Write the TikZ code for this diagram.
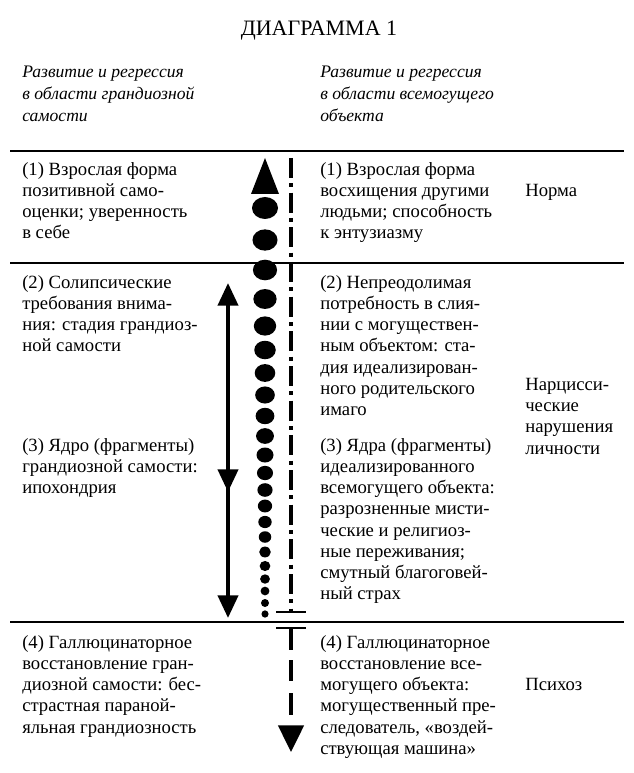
\documentclass[tikz,border=0pt]{standalone}
\usepackage{fontspec}
\setmainfont{Liberation Serif}
\usetikzlibrary{arrows.meta}
\begin{document}
\begin{tikzpicture}[x=0.75pt,y=-0.75pt,
  txt/.style={anchor=north west,inner sep=0pt,align=left,font=\fontsize{14}{15.9}\selectfont},
  hdr/.style={anchor=north west,inner sep=0pt,align=left,font=\fontsize{13.2}{16.5}\selectfont\itshape},
  rule/.style={line width=1.1pt}]
\useasboundingbox (0,0) rectangle (634,773);
\node[anchor=center,font=\fontsize{16.5}{18}\selectfont] (title) at (319,31) {ДИАГРАММА 1};
\node[hdr] (hl) at (22,66) {Развитие и регрессия\\в области грандиозной\\самости};
\node[hdr] (hr) at (320,66) {Развитие и регрессия\\в области всемогущего\\объекта};
\coordinate (r1a) at (10,151); \coordinate (r1b) at (624,151);
\coordinate (r2a) at (10,263); \coordinate (r2b) at (624,263);
\coordinate (r3a) at (10,622); \coordinate (r3b) at (624,622);
\draw[rule] (r1a)--(r1b); \draw[rule] (r2a)--(r2b); \draw[rule] (r3a)--(r3b);
% block 1
\node[txt] (l1) at (22,162) {(1) Взрослая форма\\позитивной само-\\оценки; уверенность\\в себе};
\node[txt] (m1) at (320,162) {(1) Взрослая форма\\восхищения другими\\людьми; способность\\к энтузиазму};
\node[txt] (n1) at (525,184) {Норма};
% block 2
\node[txt] (l2) at (22,275) {(2) Солипсические\\требования внима-\\ния: стадия грандиоз-\\ной самости};
\node[txt] (m2) at (320,275) {(2) Непреодолимая\\потребность в слия-\\нии с могуществен-\\ным объектом: ста-\\дия идеализирован-\\ного родительского\\имаго};
\node[txt] (n2) at (525,378) {Нарцисси-\\ческие\\нарушения\\личности};
% block 3
\node[txt] (l3) at (22,438) {(3) Ядро (фрагменты)\\грандиозной самости:\\ипохондрия};
\node[txt] (m3) at (320,438) {(3) Ядра (фрагменты)\\идеализированного\\всемогущего объекта:\\разрозненные мисти-\\ческие и религиоз-\\ные переживания;\\смутный благоговей-\\ный страх};
% block 4
\node[txt] (l4) at (22,635) {(4) Галлюцинаторное\\восстановление гран-\\диозной самости: бес-\\страстная параной-\\яльная грандиозность};
\node[txt] (m4) at (320,635) {(4) Галлюцинаторное\\восстановление все-\\могущего объекта:\\могущественный пре-\\следователь, «воздей-\\ствующая машина»};
\node[txt] (n4) at (525,678) {Психоз};
% dots column
\foreach \y [count=\i from 0] in {208,240,270,299,326,350,373,395,416,436,455,473,490,506,522,537,552,566,579,591,603,614}{
  \pgfmathsetmacro{\rx}{13-0.45*\i}
  \pgfmathsetmacro{\ry}{11-0.35*\i}
  \fill (265,\y) ellipse [x radius=\rx*0.75pt, y radius=\ry*0.75pt];
}
\coordinate (ua) at (265,196); \coordinate (ub) at (265,158);
\fill (251,194) -- (265,158) -- (279,194) -- cycle;
% left arrow
\coordinate (a1) at (228,283); \coordinate (a2) at (228,618); \coordinate (a3) at (228,492);
\draw[line width=3pt,{Triangle[length=17pt,width=15pt]}-{Triangle[length=17pt,width=15pt]}] (a1)--(a2);
\draw[line width=3pt,-{Triangle[length=17pt,width=15pt]}] (228,465)--(a3);
% dash-dot line
\coordinate (d1) at (291,158); \coordinate (d2) at (291,612);
\draw[line width=2.8pt,dash pattern=on 15pt off 4pt on 3pt off 4pt] (d1)--(d2);
\draw[line width=2pt] (276,612)--(306,612);
\draw[line width=2pt] (276,628)--(306,628);
\coordinate (d3) at (291,628); \coordinate (d4) at (291,752);
\draw[line width=2.8pt] (d3)--(291,650);
\draw[line width=2.8pt,dash pattern=on 16pt off 9pt,-{Triangle[length=20pt,width=19pt]}] (291,660)--(d4);
\end{tikzpicture}
\end{document}
